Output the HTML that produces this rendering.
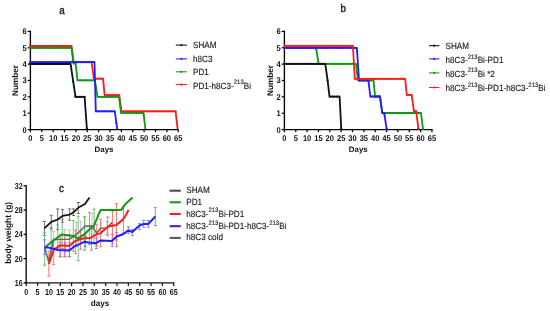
<!DOCTYPE html>
<html><head><meta charset="utf-8"><title>Figure</title>
<style>
html,body{margin:0;padding:0;background:#fff;}
svg{display:block;font-family:"Liberation Sans", Arial, sans-serif;text-rendering:geometricPrecision;}
</style></head>
<body>
<svg width="550" height="311" viewBox="0 0 550 311">
<rect width="550" height="311" fill="#fff"/>
<line x1="30.40" y1="30.78" x2="30.40" y2="130.20" stroke="#000" stroke-width="1.35" />
<line x1="27.70" y1="129.60" x2="30.40" y2="129.60" stroke="#000" stroke-width="1.2" />
<text transform="translate(26.80 132.50) scale(0.9 1)" font-size="8.4" text-anchor="end" font-weight="bold" fill="#111" >0</text>
<line x1="27.70" y1="113.23" x2="30.40" y2="113.23" stroke="#000" stroke-width="1.2" />
<text transform="translate(26.80 116.13) scale(0.9 1)" font-size="8.4" text-anchor="end" font-weight="bold" fill="#111" >1</text>
<line x1="27.70" y1="96.86" x2="30.40" y2="96.86" stroke="#000" stroke-width="1.2" />
<text transform="translate(26.80 99.76) scale(0.9 1)" font-size="8.4" text-anchor="end" font-weight="bold" fill="#111" >2</text>
<line x1="27.70" y1="80.49" x2="30.40" y2="80.49" stroke="#000" stroke-width="1.2" />
<text transform="translate(26.80 83.39) scale(0.9 1)" font-size="8.4" text-anchor="end" font-weight="bold" fill="#111" >3</text>
<line x1="27.70" y1="64.12" x2="30.40" y2="64.12" stroke="#000" stroke-width="1.2" />
<text transform="translate(26.80 67.02) scale(0.9 1)" font-size="8.4" text-anchor="end" font-weight="bold" fill="#111" >4</text>
<line x1="27.70" y1="47.75" x2="30.40" y2="47.75" stroke="#000" stroke-width="1.2" />
<text transform="translate(26.80 50.65) scale(0.9 1)" font-size="8.4" text-anchor="end" font-weight="bold" fill="#111" >5</text>
<line x1="27.70" y1="31.38" x2="30.40" y2="31.38" stroke="#000" stroke-width="1.2" />
<text transform="translate(26.80 34.28) scale(0.9 1)" font-size="8.4" text-anchor="end" font-weight="bold" fill="#111" >6</text>
<line x1="29.80" y1="129.60" x2="178.81" y2="129.60" stroke="#000" stroke-width="1.35" />
<line x1="30.40" y1="129.60" x2="30.40" y2="132.20" stroke="#000" stroke-width="1.2" />
<text transform="translate(30.40 140.60) scale(0.9 1)" font-size="8.4" text-anchor="middle" font-weight="bold" fill="#111" >0</text>
<line x1="41.77" y1="129.60" x2="41.77" y2="132.20" stroke="#000" stroke-width="1.2" />
<text transform="translate(41.77 140.60) scale(0.9 1)" font-size="8.4" text-anchor="middle" font-weight="bold" fill="#111" >5</text>
<line x1="53.14" y1="129.60" x2="53.14" y2="132.20" stroke="#000" stroke-width="1.2" />
<text transform="translate(53.14 140.60) scale(0.9 1)" font-size="8.4" text-anchor="middle" font-weight="bold" fill="#111" >10</text>
<line x1="64.51" y1="129.60" x2="64.51" y2="132.20" stroke="#000" stroke-width="1.2" />
<text transform="translate(64.51 140.60) scale(0.9 1)" font-size="8.4" text-anchor="middle" font-weight="bold" fill="#111" >15</text>
<line x1="75.88" y1="129.60" x2="75.88" y2="132.20" stroke="#000" stroke-width="1.2" />
<text transform="translate(75.88 140.60) scale(0.9 1)" font-size="8.4" text-anchor="middle" font-weight="bold" fill="#111" >20</text>
<line x1="87.25" y1="129.60" x2="87.25" y2="132.20" stroke="#000" stroke-width="1.2" />
<text transform="translate(87.25 140.60) scale(0.9 1)" font-size="8.4" text-anchor="middle" font-weight="bold" fill="#111" >25</text>
<line x1="98.62" y1="129.60" x2="98.62" y2="132.20" stroke="#000" stroke-width="1.2" />
<text transform="translate(98.62 140.60) scale(0.9 1)" font-size="8.4" text-anchor="middle" font-weight="bold" fill="#111" >30</text>
<line x1="109.99" y1="129.60" x2="109.99" y2="132.20" stroke="#000" stroke-width="1.2" />
<text transform="translate(109.99 140.60) scale(0.9 1)" font-size="8.4" text-anchor="middle" font-weight="bold" fill="#111" >35</text>
<line x1="121.36" y1="129.60" x2="121.36" y2="132.20" stroke="#000" stroke-width="1.2" />
<text transform="translate(121.36 140.60) scale(0.9 1)" font-size="8.4" text-anchor="middle" font-weight="bold" fill="#111" >40</text>
<line x1="132.73" y1="129.60" x2="132.73" y2="132.20" stroke="#000" stroke-width="1.2" />
<text transform="translate(132.73 140.60) scale(0.9 1)" font-size="8.4" text-anchor="middle" font-weight="bold" fill="#111" >45</text>
<line x1="144.10" y1="129.60" x2="144.10" y2="132.20" stroke="#000" stroke-width="1.2" />
<text transform="translate(144.10 140.60) scale(0.9 1)" font-size="8.4" text-anchor="middle" font-weight="bold" fill="#111" >50</text>
<line x1="155.47" y1="129.60" x2="155.47" y2="132.20" stroke="#000" stroke-width="1.2" />
<text transform="translate(155.47 140.60) scale(0.9 1)" font-size="8.4" text-anchor="middle" font-weight="bold" fill="#111" >55</text>
<line x1="166.84" y1="129.60" x2="166.84" y2="132.20" stroke="#000" stroke-width="1.2" />
<text transform="translate(166.84 140.60) scale(0.9 1)" font-size="8.4" text-anchor="middle" font-weight="bold" fill="#111" >60</text>
<line x1="178.21" y1="129.60" x2="178.21" y2="132.20" stroke="#000" stroke-width="1.2" />
<text transform="translate(178.21 140.60) scale(0.9 1)" font-size="8.4" text-anchor="middle" font-weight="bold" fill="#111" >65</text>
<text x="104.00" y="151.50" font-size="7.9" text-anchor="middle" font-weight="bold" fill="#111" >Days</text>
<text x="0" y="0" font-size="8.2" font-weight="bold" text-anchor="middle" fill="#111" transform="translate(18.0,80.5) rotate(-90)">Number</text>
<text transform="translate(59.20 14.00) scale(0.88 1)" font-size="11.2" text-anchor="start" font-weight="normal" fill="#1a1a2a" stroke="#1a1a2a" stroke-width="0.45">a</text>
<polyline points="30.00,64.00 70.60,64.00 73.00,80.20 75.50,96.80 84.60,96.80 86.90,129.10" fill="none" stroke="#111" stroke-width="1.8" stroke-linejoin="round" />
<circle cx="30.00" cy="64.00" r="1.05" fill="#111"/>
<circle cx="32.27" cy="64.00" r="1.05" fill="#111"/>
<circle cx="34.55" cy="64.00" r="1.05" fill="#111"/>
<circle cx="36.82" cy="64.00" r="1.05" fill="#111"/>
<circle cx="39.10" cy="64.00" r="1.05" fill="#111"/>
<circle cx="41.37" cy="64.00" r="1.05" fill="#111"/>
<circle cx="43.64" cy="64.00" r="1.05" fill="#111"/>
<circle cx="45.92" cy="64.00" r="1.05" fill="#111"/>
<circle cx="48.19" cy="64.00" r="1.05" fill="#111"/>
<circle cx="50.47" cy="64.00" r="1.05" fill="#111"/>
<circle cx="52.74" cy="64.00" r="1.05" fill="#111"/>
<circle cx="55.01" cy="64.00" r="1.05" fill="#111"/>
<circle cx="57.29" cy="64.00" r="1.05" fill="#111"/>
<circle cx="59.56" cy="64.00" r="1.05" fill="#111"/>
<circle cx="61.84" cy="64.00" r="1.05" fill="#111"/>
<circle cx="64.11" cy="64.00" r="1.05" fill="#111"/>
<circle cx="66.38" cy="64.00" r="1.05" fill="#111"/>
<circle cx="68.66" cy="64.00" r="1.05" fill="#111"/>
<circle cx="70.93" cy="66.24" r="1.05" fill="#111"/>
<circle cx="73.21" cy="81.57" r="1.05" fill="#111"/>
<circle cx="75.48" cy="96.67" r="1.05" fill="#111"/>
<circle cx="77.75" cy="96.80" r="1.05" fill="#111"/>
<circle cx="80.03" cy="96.80" r="1.05" fill="#111"/>
<circle cx="82.30" cy="96.80" r="1.05" fill="#111"/>
<circle cx="84.58" cy="96.80" r="1.05" fill="#111"/>
<circle cx="86.85" cy="128.40" r="1.05" fill="#111"/>
<polyline points="30.00,46.00 71.60,46.00 73.60,62.20 91.50,62.20 93.90,78.70 103.10,78.70 104.60,95.10 119.30,95.10 121.40,111.30 175.60,111.30 177.60,129.10" fill="none" stroke="#ff1a1a" stroke-width="1.8" stroke-linejoin="round" />
<circle cx="30.00" cy="46.00" r="1.05" fill="#ff1a1a"/>
<circle cx="32.27" cy="46.00" r="1.05" fill="#ff1a1a"/>
<circle cx="34.55" cy="46.00" r="1.05" fill="#ff1a1a"/>
<circle cx="36.82" cy="46.00" r="1.05" fill="#ff1a1a"/>
<circle cx="39.10" cy="46.00" r="1.05" fill="#ff1a1a"/>
<circle cx="41.37" cy="46.00" r="1.05" fill="#ff1a1a"/>
<circle cx="43.64" cy="46.00" r="1.05" fill="#ff1a1a"/>
<circle cx="45.92" cy="46.00" r="1.05" fill="#ff1a1a"/>
<circle cx="48.19" cy="46.00" r="1.05" fill="#ff1a1a"/>
<circle cx="50.47" cy="46.00" r="1.05" fill="#ff1a1a"/>
<circle cx="52.74" cy="46.00" r="1.05" fill="#ff1a1a"/>
<circle cx="55.01" cy="46.00" r="1.05" fill="#ff1a1a"/>
<circle cx="57.29" cy="46.00" r="1.05" fill="#ff1a1a"/>
<circle cx="59.56" cy="46.00" r="1.05" fill="#ff1a1a"/>
<circle cx="61.84" cy="46.00" r="1.05" fill="#ff1a1a"/>
<circle cx="64.11" cy="46.00" r="1.05" fill="#ff1a1a"/>
<circle cx="66.38" cy="46.00" r="1.05" fill="#ff1a1a"/>
<circle cx="68.66" cy="46.00" r="1.05" fill="#ff1a1a"/>
<circle cx="70.93" cy="46.00" r="1.05" fill="#ff1a1a"/>
<circle cx="73.21" cy="59.01" r="1.05" fill="#ff1a1a"/>
<circle cx="75.48" cy="62.20" r="1.05" fill="#ff1a1a"/>
<circle cx="77.75" cy="62.20" r="1.05" fill="#ff1a1a"/>
<circle cx="80.03" cy="62.20" r="1.05" fill="#ff1a1a"/>
<circle cx="82.30" cy="62.20" r="1.05" fill="#ff1a1a"/>
<circle cx="84.58" cy="62.20" r="1.05" fill="#ff1a1a"/>
<circle cx="86.85" cy="62.20" r="1.05" fill="#ff1a1a"/>
<circle cx="89.12" cy="62.20" r="1.05" fill="#ff1a1a"/>
<circle cx="91.40" cy="62.20" r="1.05" fill="#ff1a1a"/>
<circle cx="93.67" cy="77.13" r="1.05" fill="#ff1a1a"/>
<circle cx="95.95" cy="78.70" r="1.05" fill="#ff1a1a"/>
<circle cx="98.22" cy="78.70" r="1.05" fill="#ff1a1a"/>
<circle cx="100.49" cy="78.70" r="1.05" fill="#ff1a1a"/>
<circle cx="102.77" cy="78.70" r="1.05" fill="#ff1a1a"/>
<circle cx="105.04" cy="95.10" r="1.05" fill="#ff1a1a"/>
<circle cx="107.32" cy="95.10" r="1.05" fill="#ff1a1a"/>
<circle cx="109.59" cy="95.10" r="1.05" fill="#ff1a1a"/>
<circle cx="111.86" cy="95.10" r="1.05" fill="#ff1a1a"/>
<circle cx="114.14" cy="95.10" r="1.05" fill="#ff1a1a"/>
<circle cx="116.41" cy="95.10" r="1.05" fill="#ff1a1a"/>
<circle cx="118.69" cy="95.10" r="1.05" fill="#ff1a1a"/>
<circle cx="120.96" cy="107.91" r="1.05" fill="#ff1a1a"/>
<circle cx="123.23" cy="111.30" r="1.05" fill="#ff1a1a"/>
<circle cx="125.51" cy="111.30" r="1.05" fill="#ff1a1a"/>
<circle cx="127.78" cy="111.30" r="1.05" fill="#ff1a1a"/>
<circle cx="130.06" cy="111.30" r="1.05" fill="#ff1a1a"/>
<circle cx="132.33" cy="111.30" r="1.05" fill="#ff1a1a"/>
<circle cx="134.60" cy="111.30" r="1.05" fill="#ff1a1a"/>
<circle cx="136.88" cy="111.30" r="1.05" fill="#ff1a1a"/>
<circle cx="139.15" cy="111.30" r="1.05" fill="#ff1a1a"/>
<circle cx="141.43" cy="111.30" r="1.05" fill="#ff1a1a"/>
<circle cx="143.70" cy="111.30" r="1.05" fill="#ff1a1a"/>
<circle cx="145.97" cy="111.30" r="1.05" fill="#ff1a1a"/>
<circle cx="148.25" cy="111.30" r="1.05" fill="#ff1a1a"/>
<circle cx="150.52" cy="111.30" r="1.05" fill="#ff1a1a"/>
<circle cx="152.80" cy="111.30" r="1.05" fill="#ff1a1a"/>
<circle cx="155.07" cy="111.30" r="1.05" fill="#ff1a1a"/>
<circle cx="157.34" cy="111.30" r="1.05" fill="#ff1a1a"/>
<circle cx="159.62" cy="111.30" r="1.05" fill="#ff1a1a"/>
<circle cx="161.89" cy="111.30" r="1.05" fill="#ff1a1a"/>
<circle cx="164.17" cy="111.30" r="1.05" fill="#ff1a1a"/>
<circle cx="166.44" cy="111.30" r="1.05" fill="#ff1a1a"/>
<circle cx="168.71" cy="111.30" r="1.05" fill="#ff1a1a"/>
<circle cx="170.99" cy="111.30" r="1.05" fill="#ff1a1a"/>
<circle cx="173.26" cy="111.30" r="1.05" fill="#ff1a1a"/>
<circle cx="175.54" cy="111.30" r="1.05" fill="#ff1a1a"/>
<polyline points="30.00,47.90 71.60,47.90 73.40,63.50 75.60,63.50 77.50,80.30 94.90,80.30 97.50,96.80 119.00,96.80 121.00,112.90 143.50,112.90 145.40,129.10" fill="none" stroke="#119911" stroke-width="1.8" stroke-linejoin="round" />
<circle cx="30.00" cy="47.90" r="1.05" fill="#119911"/>
<circle cx="32.27" cy="47.90" r="1.05" fill="#119911"/>
<circle cx="34.55" cy="47.90" r="1.05" fill="#119911"/>
<circle cx="36.82" cy="47.90" r="1.05" fill="#119911"/>
<circle cx="39.10" cy="47.90" r="1.05" fill="#119911"/>
<circle cx="41.37" cy="47.90" r="1.05" fill="#119911"/>
<circle cx="43.64" cy="47.90" r="1.05" fill="#119911"/>
<circle cx="45.92" cy="47.90" r="1.05" fill="#119911"/>
<circle cx="48.19" cy="47.90" r="1.05" fill="#119911"/>
<circle cx="50.47" cy="47.90" r="1.05" fill="#119911"/>
<circle cx="52.74" cy="47.90" r="1.05" fill="#119911"/>
<circle cx="55.01" cy="47.90" r="1.05" fill="#119911"/>
<circle cx="57.29" cy="47.90" r="1.05" fill="#119911"/>
<circle cx="59.56" cy="47.90" r="1.05" fill="#119911"/>
<circle cx="61.84" cy="47.90" r="1.05" fill="#119911"/>
<circle cx="64.11" cy="47.90" r="1.05" fill="#119911"/>
<circle cx="66.38" cy="47.90" r="1.05" fill="#119911"/>
<circle cx="68.66" cy="47.90" r="1.05" fill="#119911"/>
<circle cx="70.93" cy="47.90" r="1.05" fill="#119911"/>
<circle cx="73.21" cy="61.82" r="1.05" fill="#119911"/>
<circle cx="75.48" cy="63.50" r="1.05" fill="#119911"/>
<circle cx="77.75" cy="80.30" r="1.05" fill="#119911"/>
<circle cx="80.03" cy="80.30" r="1.05" fill="#119911"/>
<circle cx="82.30" cy="80.30" r="1.05" fill="#119911"/>
<circle cx="84.58" cy="80.30" r="1.05" fill="#119911"/>
<circle cx="86.85" cy="80.30" r="1.05" fill="#119911"/>
<circle cx="89.12" cy="80.30" r="1.05" fill="#119911"/>
<circle cx="91.40" cy="80.30" r="1.05" fill="#119911"/>
<circle cx="93.67" cy="80.30" r="1.05" fill="#119911"/>
<circle cx="95.95" cy="86.94" r="1.05" fill="#119911"/>
<circle cx="98.22" cy="96.80" r="1.05" fill="#119911"/>
<circle cx="100.49" cy="96.80" r="1.05" fill="#119911"/>
<circle cx="102.77" cy="96.80" r="1.05" fill="#119911"/>
<circle cx="105.04" cy="96.80" r="1.05" fill="#119911"/>
<circle cx="107.32" cy="96.80" r="1.05" fill="#119911"/>
<circle cx="109.59" cy="96.80" r="1.05" fill="#119911"/>
<circle cx="111.86" cy="96.80" r="1.05" fill="#119911"/>
<circle cx="114.14" cy="96.80" r="1.05" fill="#119911"/>
<circle cx="116.41" cy="96.80" r="1.05" fill="#119911"/>
<circle cx="118.69" cy="96.80" r="1.05" fill="#119911"/>
<circle cx="120.96" cy="112.58" r="1.05" fill="#119911"/>
<circle cx="123.23" cy="112.90" r="1.05" fill="#119911"/>
<circle cx="125.51" cy="112.90" r="1.05" fill="#119911"/>
<circle cx="127.78" cy="112.90" r="1.05" fill="#119911"/>
<circle cx="130.06" cy="112.90" r="1.05" fill="#119911"/>
<circle cx="132.33" cy="112.90" r="1.05" fill="#119911"/>
<circle cx="134.60" cy="112.90" r="1.05" fill="#119911"/>
<circle cx="136.88" cy="112.90" r="1.05" fill="#119911"/>
<circle cx="139.15" cy="112.90" r="1.05" fill="#119911"/>
<circle cx="141.43" cy="112.90" r="1.05" fill="#119911"/>
<circle cx="143.70" cy="114.61" r="1.05" fill="#119911"/>
<polyline points="30.00,62.10 94.50,62.10 95.80,111.30 114.80,111.30 117.20,129.10" fill="none" stroke="#1f1fff" stroke-width="1.8" stroke-linejoin="round" />
<circle cx="30.00" cy="62.10" r="1.05" fill="#1f1fff"/>
<circle cx="32.27" cy="62.10" r="1.05" fill="#1f1fff"/>
<circle cx="34.55" cy="62.10" r="1.05" fill="#1f1fff"/>
<circle cx="36.82" cy="62.10" r="1.05" fill="#1f1fff"/>
<circle cx="39.10" cy="62.10" r="1.05" fill="#1f1fff"/>
<circle cx="41.37" cy="62.10" r="1.05" fill="#1f1fff"/>
<circle cx="43.64" cy="62.10" r="1.05" fill="#1f1fff"/>
<circle cx="45.92" cy="62.10" r="1.05" fill="#1f1fff"/>
<circle cx="48.19" cy="62.10" r="1.05" fill="#1f1fff"/>
<circle cx="50.47" cy="62.10" r="1.05" fill="#1f1fff"/>
<circle cx="52.74" cy="62.10" r="1.05" fill="#1f1fff"/>
<circle cx="55.01" cy="62.10" r="1.05" fill="#1f1fff"/>
<circle cx="57.29" cy="62.10" r="1.05" fill="#1f1fff"/>
<circle cx="59.56" cy="62.10" r="1.05" fill="#1f1fff"/>
<circle cx="61.84" cy="62.10" r="1.05" fill="#1f1fff"/>
<circle cx="64.11" cy="62.10" r="1.05" fill="#1f1fff"/>
<circle cx="66.38" cy="62.10" r="1.05" fill="#1f1fff"/>
<circle cx="68.66" cy="62.10" r="1.05" fill="#1f1fff"/>
<circle cx="70.93" cy="62.10" r="1.05" fill="#1f1fff"/>
<circle cx="73.21" cy="62.10" r="1.05" fill="#1f1fff"/>
<circle cx="75.48" cy="62.10" r="1.05" fill="#1f1fff"/>
<circle cx="77.75" cy="62.10" r="1.05" fill="#1f1fff"/>
<circle cx="80.03" cy="62.10" r="1.05" fill="#1f1fff"/>
<circle cx="82.30" cy="62.10" r="1.05" fill="#1f1fff"/>
<circle cx="84.58" cy="62.10" r="1.05" fill="#1f1fff"/>
<circle cx="86.85" cy="62.10" r="1.05" fill="#1f1fff"/>
<circle cx="89.12" cy="62.10" r="1.05" fill="#1f1fff"/>
<circle cx="91.40" cy="62.10" r="1.05" fill="#1f1fff"/>
<circle cx="93.67" cy="62.10" r="1.05" fill="#1f1fff"/>
<circle cx="95.95" cy="111.30" r="1.05" fill="#1f1fff"/>
<circle cx="98.22" cy="111.30" r="1.05" fill="#1f1fff"/>
<circle cx="100.49" cy="111.30" r="1.05" fill="#1f1fff"/>
<circle cx="102.77" cy="111.30" r="1.05" fill="#1f1fff"/>
<circle cx="105.04" cy="111.30" r="1.05" fill="#1f1fff"/>
<circle cx="107.32" cy="111.30" r="1.05" fill="#1f1fff"/>
<circle cx="109.59" cy="111.30" r="1.05" fill="#1f1fff"/>
<circle cx="111.86" cy="111.30" r="1.05" fill="#1f1fff"/>
<circle cx="114.14" cy="111.30" r="1.05" fill="#1f1fff"/>
<circle cx="116.41" cy="123.26" r="1.05" fill="#1f1fff"/>
<line x1="175.80" y1="45.10" x2="187.00" y2="45.10" stroke="#111" stroke-width="1.05" />
<circle cx="181.40" cy="45.10" r="1.1" fill="#111"/>
<text transform="translate(193.00 47.80) scale(0.905 1)" font-size="9" fill="#222" stroke="#222" stroke-width="0.15">SHAM</text>
<line x1="175.80" y1="58.90" x2="187.00" y2="58.90" stroke="#1f1fff" stroke-width="1.05" />
<circle cx="181.40" cy="58.90" r="1.1" fill="#1f1fff"/>
<text transform="translate(193.00 61.80) scale(0.905 1)" font-size="9" fill="#222" stroke="#222" stroke-width="0.15">h8C3</text>
<line x1="175.80" y1="71.80" x2="187.00" y2="71.80" stroke="#119911" stroke-width="1.05" />
<circle cx="181.40" cy="71.80" r="1.1" fill="#119911"/>
<text transform="translate(193.00 74.60) scale(0.905 1)" font-size="9" fill="#222" stroke="#222" stroke-width="0.15">PD1</text>
<line x1="175.80" y1="84.60" x2="187.00" y2="84.60" stroke="#ff1a1a" stroke-width="1.05" />
<circle cx="181.40" cy="84.60" r="1.1" fill="#ff1a1a"/>
<text transform="translate(193.00 88.70) scale(0.905 1)" font-size="9" fill="#222" stroke="#222" stroke-width="0.15"><tspan>PD1-h8C3-</tspan><tspan font-size="6.6" dy="-4.4">213</tspan><tspan dy="4.4">Bi</tspan></text>
<line x1="284.40" y1="30.78" x2="284.40" y2="130.20" stroke="#000" stroke-width="1.35" />
<line x1="281.70" y1="129.60" x2="284.40" y2="129.60" stroke="#000" stroke-width="1.2" />
<text transform="translate(280.80 132.50) scale(0.9 1)" font-size="8.4" text-anchor="end" font-weight="bold" fill="#111" >0</text>
<line x1="281.70" y1="113.23" x2="284.40" y2="113.23" stroke="#000" stroke-width="1.2" />
<text transform="translate(280.80 116.13) scale(0.9 1)" font-size="8.4" text-anchor="end" font-weight="bold" fill="#111" >1</text>
<line x1="281.70" y1="96.86" x2="284.40" y2="96.86" stroke="#000" stroke-width="1.2" />
<text transform="translate(280.80 99.76) scale(0.9 1)" font-size="8.4" text-anchor="end" font-weight="bold" fill="#111" >2</text>
<line x1="281.70" y1="80.49" x2="284.40" y2="80.49" stroke="#000" stroke-width="1.2" />
<text transform="translate(280.80 83.39) scale(0.9 1)" font-size="8.4" text-anchor="end" font-weight="bold" fill="#111" >3</text>
<line x1="281.70" y1="64.12" x2="284.40" y2="64.12" stroke="#000" stroke-width="1.2" />
<text transform="translate(280.80 67.02) scale(0.9 1)" font-size="8.4" text-anchor="end" font-weight="bold" fill="#111" >4</text>
<line x1="281.70" y1="47.75" x2="284.40" y2="47.75" stroke="#000" stroke-width="1.2" />
<text transform="translate(280.80 50.65) scale(0.9 1)" font-size="8.4" text-anchor="end" font-weight="bold" fill="#111" >5</text>
<line x1="281.70" y1="31.38" x2="284.40" y2="31.38" stroke="#000" stroke-width="1.2" />
<text transform="translate(280.80 34.28) scale(0.9 1)" font-size="8.4" text-anchor="end" font-weight="bold" fill="#111" >6</text>
<line x1="283.80" y1="129.60" x2="432.55" y2="129.60" stroke="#000" stroke-width="1.35" />
<line x1="284.40" y1="129.60" x2="284.40" y2="132.20" stroke="#000" stroke-width="1.2" />
<text transform="translate(284.40 140.60) scale(0.9 1)" font-size="8.4" text-anchor="middle" font-weight="bold" fill="#111" >0</text>
<line x1="295.75" y1="129.60" x2="295.75" y2="132.20" stroke="#000" stroke-width="1.2" />
<text transform="translate(295.75 140.60) scale(0.9 1)" font-size="8.4" text-anchor="middle" font-weight="bold" fill="#111" >5</text>
<line x1="307.10" y1="129.60" x2="307.10" y2="132.20" stroke="#000" stroke-width="1.2" />
<text transform="translate(307.10 140.60) scale(0.9 1)" font-size="8.4" text-anchor="middle" font-weight="bold" fill="#111" >10</text>
<line x1="318.45" y1="129.60" x2="318.45" y2="132.20" stroke="#000" stroke-width="1.2" />
<text transform="translate(318.45 140.60) scale(0.9 1)" font-size="8.4" text-anchor="middle" font-weight="bold" fill="#111" >15</text>
<line x1="329.80" y1="129.60" x2="329.80" y2="132.20" stroke="#000" stroke-width="1.2" />
<text transform="translate(329.80 140.60) scale(0.9 1)" font-size="8.4" text-anchor="middle" font-weight="bold" fill="#111" >20</text>
<line x1="341.15" y1="129.60" x2="341.15" y2="132.20" stroke="#000" stroke-width="1.2" />
<text transform="translate(341.15 140.60) scale(0.9 1)" font-size="8.4" text-anchor="middle" font-weight="bold" fill="#111" >25</text>
<line x1="352.50" y1="129.60" x2="352.50" y2="132.20" stroke="#000" stroke-width="1.2" />
<text transform="translate(352.50 140.60) scale(0.9 1)" font-size="8.4" text-anchor="middle" font-weight="bold" fill="#111" >30</text>
<line x1="363.85" y1="129.60" x2="363.85" y2="132.20" stroke="#000" stroke-width="1.2" />
<text transform="translate(363.85 140.60) scale(0.9 1)" font-size="8.4" text-anchor="middle" font-weight="bold" fill="#111" >35</text>
<line x1="375.20" y1="129.60" x2="375.20" y2="132.20" stroke="#000" stroke-width="1.2" />
<text transform="translate(375.20 140.60) scale(0.9 1)" font-size="8.4" text-anchor="middle" font-weight="bold" fill="#111" >40</text>
<line x1="386.55" y1="129.60" x2="386.55" y2="132.20" stroke="#000" stroke-width="1.2" />
<text transform="translate(386.55 140.60) scale(0.9 1)" font-size="8.4" text-anchor="middle" font-weight="bold" fill="#111" >45</text>
<line x1="397.90" y1="129.60" x2="397.90" y2="132.20" stroke="#000" stroke-width="1.2" />
<text transform="translate(397.90 140.60) scale(0.9 1)" font-size="8.4" text-anchor="middle" font-weight="bold" fill="#111" >50</text>
<line x1="409.25" y1="129.60" x2="409.25" y2="132.20" stroke="#000" stroke-width="1.2" />
<text transform="translate(409.25 140.60) scale(0.9 1)" font-size="8.4" text-anchor="middle" font-weight="bold" fill="#111" >55</text>
<line x1="420.60" y1="129.60" x2="420.60" y2="132.20" stroke="#000" stroke-width="1.2" />
<text transform="translate(420.60 140.60) scale(0.9 1)" font-size="8.4" text-anchor="middle" font-weight="bold" fill="#111" >60</text>
<line x1="431.95" y1="129.60" x2="431.95" y2="132.20" stroke="#000" stroke-width="1.2" />
<text transform="translate(431.95 140.60) scale(0.9 1)" font-size="8.4" text-anchor="middle" font-weight="bold" fill="#111" >65</text>
<text x="358.30" y="151.50" font-size="7.9" text-anchor="middle" font-weight="bold" fill="#111" >Days</text>
<text x="0" y="0" font-size="8.2" font-weight="bold" text-anchor="middle" fill="#111" transform="translate(272.6,80.5) rotate(-90)">Number</text>
<text transform="translate(340.60 12.40) scale(0.88 1)" font-size="11.0" text-anchor="start" font-weight="normal" fill="#1a1a2a" stroke="#1a1a2a" stroke-width="0.45">b</text>
<polyline points="284.50,47.90 316.10,47.90 318.60,63.90 356.00,63.90 358.00,80.40 373.50,80.40 375.10,96.50 380.00,96.50 382.30,113.00 421.00,113.00 423.00,129.20" fill="none" stroke="#119911" stroke-width="1.8" stroke-linejoin="round" />
<circle cx="284.50" cy="47.90" r="1.05" fill="#119911"/>
<circle cx="286.77" cy="47.90" r="1.05" fill="#119911"/>
<circle cx="289.04" cy="47.90" r="1.05" fill="#119911"/>
<circle cx="291.31" cy="47.90" r="1.05" fill="#119911"/>
<circle cx="293.58" cy="47.90" r="1.05" fill="#119911"/>
<circle cx="295.85" cy="47.90" r="1.05" fill="#119911"/>
<circle cx="298.12" cy="47.90" r="1.05" fill="#119911"/>
<circle cx="300.39" cy="47.90" r="1.05" fill="#119911"/>
<circle cx="302.66" cy="47.90" r="1.05" fill="#119911"/>
<circle cx="304.93" cy="47.90" r="1.05" fill="#119911"/>
<circle cx="307.20" cy="47.90" r="1.05" fill="#119911"/>
<circle cx="309.47" cy="47.90" r="1.05" fill="#119911"/>
<circle cx="311.74" cy="47.90" r="1.05" fill="#119911"/>
<circle cx="314.01" cy="47.90" r="1.05" fill="#119911"/>
<circle cx="316.28" cy="49.05" r="1.05" fill="#119911"/>
<circle cx="318.55" cy="63.58" r="1.05" fill="#119911"/>
<circle cx="320.82" cy="63.90" r="1.05" fill="#119911"/>
<circle cx="323.09" cy="63.90" r="1.05" fill="#119911"/>
<circle cx="325.36" cy="63.90" r="1.05" fill="#119911"/>
<circle cx="327.63" cy="63.90" r="1.05" fill="#119911"/>
<circle cx="329.90" cy="63.90" r="1.05" fill="#119911"/>
<circle cx="332.17" cy="63.90" r="1.05" fill="#119911"/>
<circle cx="334.44" cy="63.90" r="1.05" fill="#119911"/>
<circle cx="336.71" cy="63.90" r="1.05" fill="#119911"/>
<circle cx="338.98" cy="63.90" r="1.05" fill="#119911"/>
<circle cx="341.25" cy="63.90" r="1.05" fill="#119911"/>
<circle cx="343.52" cy="63.90" r="1.05" fill="#119911"/>
<circle cx="345.79" cy="63.90" r="1.05" fill="#119911"/>
<circle cx="348.06" cy="63.90" r="1.05" fill="#119911"/>
<circle cx="350.33" cy="63.90" r="1.05" fill="#119911"/>
<circle cx="352.60" cy="63.90" r="1.05" fill="#119911"/>
<circle cx="354.87" cy="63.90" r="1.05" fill="#119911"/>
<circle cx="357.14" cy="73.30" r="1.05" fill="#119911"/>
<circle cx="359.41" cy="80.40" r="1.05" fill="#119911"/>
<circle cx="361.68" cy="80.40" r="1.05" fill="#119911"/>
<circle cx="363.95" cy="80.40" r="1.05" fill="#119911"/>
<circle cx="366.22" cy="80.40" r="1.05" fill="#119911"/>
<circle cx="368.49" cy="80.40" r="1.05" fill="#119911"/>
<circle cx="370.76" cy="80.40" r="1.05" fill="#119911"/>
<circle cx="373.03" cy="80.40" r="1.05" fill="#119911"/>
<circle cx="375.30" cy="96.50" r="1.05" fill="#119911"/>
<circle cx="377.57" cy="96.50" r="1.05" fill="#119911"/>
<circle cx="379.84" cy="96.50" r="1.05" fill="#119911"/>
<circle cx="382.11" cy="111.64" r="1.05" fill="#119911"/>
<circle cx="384.38" cy="113.00" r="1.05" fill="#119911"/>
<circle cx="386.65" cy="113.00" r="1.05" fill="#119911"/>
<circle cx="388.92" cy="113.00" r="1.05" fill="#119911"/>
<circle cx="391.19" cy="113.00" r="1.05" fill="#119911"/>
<circle cx="393.46" cy="113.00" r="1.05" fill="#119911"/>
<circle cx="395.73" cy="113.00" r="1.05" fill="#119911"/>
<circle cx="398.00" cy="113.00" r="1.05" fill="#119911"/>
<circle cx="400.27" cy="113.00" r="1.05" fill="#119911"/>
<circle cx="402.54" cy="113.00" r="1.05" fill="#119911"/>
<circle cx="404.81" cy="113.00" r="1.05" fill="#119911"/>
<circle cx="407.08" cy="113.00" r="1.05" fill="#119911"/>
<circle cx="409.35" cy="113.00" r="1.05" fill="#119911"/>
<circle cx="411.62" cy="113.00" r="1.05" fill="#119911"/>
<circle cx="413.89" cy="113.00" r="1.05" fill="#119911"/>
<circle cx="416.16" cy="113.00" r="1.05" fill="#119911"/>
<circle cx="418.43" cy="113.00" r="1.05" fill="#119911"/>
<circle cx="420.70" cy="113.00" r="1.05" fill="#119911"/>
<circle cx="422.97" cy="128.96" r="1.05" fill="#119911"/>
<polyline points="284.50,63.90 325.30,63.90 327.60,80.30 329.50,96.60 339.60,96.60 341.30,129.20" fill="none" stroke="#111" stroke-width="1.8" stroke-linejoin="round" />
<circle cx="284.50" cy="63.90" r="1.05" fill="#111"/>
<circle cx="286.77" cy="63.90" r="1.05" fill="#111"/>
<circle cx="289.04" cy="63.90" r="1.05" fill="#111"/>
<circle cx="291.31" cy="63.90" r="1.05" fill="#111"/>
<circle cx="293.58" cy="63.90" r="1.05" fill="#111"/>
<circle cx="295.85" cy="63.90" r="1.05" fill="#111"/>
<circle cx="298.12" cy="63.90" r="1.05" fill="#111"/>
<circle cx="300.39" cy="63.90" r="1.05" fill="#111"/>
<circle cx="302.66" cy="63.90" r="1.05" fill="#111"/>
<circle cx="304.93" cy="63.90" r="1.05" fill="#111"/>
<circle cx="307.20" cy="63.90" r="1.05" fill="#111"/>
<circle cx="309.47" cy="63.90" r="1.05" fill="#111"/>
<circle cx="311.74" cy="63.90" r="1.05" fill="#111"/>
<circle cx="314.01" cy="63.90" r="1.05" fill="#111"/>
<circle cx="316.28" cy="63.90" r="1.05" fill="#111"/>
<circle cx="318.55" cy="63.90" r="1.05" fill="#111"/>
<circle cx="320.82" cy="63.90" r="1.05" fill="#111"/>
<circle cx="323.09" cy="63.90" r="1.05" fill="#111"/>
<circle cx="325.36" cy="64.33" r="1.05" fill="#111"/>
<circle cx="327.63" cy="80.56" r="1.05" fill="#111"/>
<circle cx="329.90" cy="96.60" r="1.05" fill="#111"/>
<circle cx="332.17" cy="96.60" r="1.05" fill="#111"/>
<circle cx="334.44" cy="96.60" r="1.05" fill="#111"/>
<circle cx="336.71" cy="96.60" r="1.05" fill="#111"/>
<circle cx="338.98" cy="96.60" r="1.05" fill="#111"/>
<circle cx="341.25" cy="128.24" r="1.05" fill="#111"/>
<polyline points="284.50,47.90 356.90,47.90 359.00,80.40 368.40,80.40 370.30,96.50 379.90,96.50 382.30,113.00 384.20,113.00 386.70,129.20" fill="none" stroke="#1f1fff" stroke-width="1.8" stroke-linejoin="round" />
<circle cx="284.50" cy="47.90" r="1.05" fill="#1f1fff"/>
<circle cx="286.77" cy="47.90" r="1.05" fill="#1f1fff"/>
<circle cx="289.04" cy="47.90" r="1.05" fill="#1f1fff"/>
<circle cx="291.31" cy="47.90" r="1.05" fill="#1f1fff"/>
<circle cx="293.58" cy="47.90" r="1.05" fill="#1f1fff"/>
<circle cx="295.85" cy="47.90" r="1.05" fill="#1f1fff"/>
<circle cx="298.12" cy="47.90" r="1.05" fill="#1f1fff"/>
<circle cx="300.39" cy="47.90" r="1.05" fill="#1f1fff"/>
<circle cx="302.66" cy="47.90" r="1.05" fill="#1f1fff"/>
<circle cx="304.93" cy="47.90" r="1.05" fill="#1f1fff"/>
<circle cx="307.20" cy="47.90" r="1.05" fill="#1f1fff"/>
<circle cx="309.47" cy="47.90" r="1.05" fill="#1f1fff"/>
<circle cx="311.74" cy="47.90" r="1.05" fill="#1f1fff"/>
<circle cx="314.01" cy="47.90" r="1.05" fill="#1f1fff"/>
<circle cx="316.28" cy="47.90" r="1.05" fill="#1f1fff"/>
<circle cx="318.55" cy="47.90" r="1.05" fill="#1f1fff"/>
<circle cx="320.82" cy="47.90" r="1.05" fill="#1f1fff"/>
<circle cx="323.09" cy="47.90" r="1.05" fill="#1f1fff"/>
<circle cx="325.36" cy="47.90" r="1.05" fill="#1f1fff"/>
<circle cx="327.63" cy="47.90" r="1.05" fill="#1f1fff"/>
<circle cx="329.90" cy="47.90" r="1.05" fill="#1f1fff"/>
<circle cx="332.17" cy="47.90" r="1.05" fill="#1f1fff"/>
<circle cx="334.44" cy="47.90" r="1.05" fill="#1f1fff"/>
<circle cx="336.71" cy="47.90" r="1.05" fill="#1f1fff"/>
<circle cx="338.98" cy="47.90" r="1.05" fill="#1f1fff"/>
<circle cx="341.25" cy="47.90" r="1.05" fill="#1f1fff"/>
<circle cx="343.52" cy="47.90" r="1.05" fill="#1f1fff"/>
<circle cx="345.79" cy="47.90" r="1.05" fill="#1f1fff"/>
<circle cx="348.06" cy="47.90" r="1.05" fill="#1f1fff"/>
<circle cx="350.33" cy="47.90" r="1.05" fill="#1f1fff"/>
<circle cx="352.60" cy="47.90" r="1.05" fill="#1f1fff"/>
<circle cx="354.87" cy="47.90" r="1.05" fill="#1f1fff"/>
<circle cx="357.14" cy="51.61" r="1.05" fill="#1f1fff"/>
<circle cx="359.41" cy="80.40" r="1.05" fill="#1f1fff"/>
<circle cx="361.68" cy="80.40" r="1.05" fill="#1f1fff"/>
<circle cx="363.95" cy="80.40" r="1.05" fill="#1f1fff"/>
<circle cx="366.22" cy="80.40" r="1.05" fill="#1f1fff"/>
<circle cx="368.49" cy="81.16" r="1.05" fill="#1f1fff"/>
<circle cx="370.76" cy="96.50" r="1.05" fill="#1f1fff"/>
<circle cx="373.03" cy="96.50" r="1.05" fill="#1f1fff"/>
<circle cx="375.30" cy="96.50" r="1.05" fill="#1f1fff"/>
<circle cx="377.57" cy="96.50" r="1.05" fill="#1f1fff"/>
<circle cx="379.84" cy="96.50" r="1.05" fill="#1f1fff"/>
<circle cx="382.11" cy="111.69" r="1.05" fill="#1f1fff"/>
<circle cx="384.38" cy="114.17" r="1.05" fill="#1f1fff"/>
<circle cx="386.65" cy="128.88" r="1.05" fill="#1f1fff"/>
<polyline points="284.50,45.90 352.90,45.90 354.80,78.80 405.20,78.80 406.80,94.90 411.60,94.90 414.00,111.40 416.20,111.40 418.50,129.20" fill="none" stroke="#ff1a1a" stroke-width="1.8" stroke-linejoin="round" />
<circle cx="284.50" cy="45.90" r="1.05" fill="#ff1a1a"/>
<circle cx="286.77" cy="45.90" r="1.05" fill="#ff1a1a"/>
<circle cx="289.04" cy="45.90" r="1.05" fill="#ff1a1a"/>
<circle cx="291.31" cy="45.90" r="1.05" fill="#ff1a1a"/>
<circle cx="293.58" cy="45.90" r="1.05" fill="#ff1a1a"/>
<circle cx="295.85" cy="45.90" r="1.05" fill="#ff1a1a"/>
<circle cx="298.12" cy="45.90" r="1.05" fill="#ff1a1a"/>
<circle cx="300.39" cy="45.90" r="1.05" fill="#ff1a1a"/>
<circle cx="302.66" cy="45.90" r="1.05" fill="#ff1a1a"/>
<circle cx="304.93" cy="45.90" r="1.05" fill="#ff1a1a"/>
<circle cx="307.20" cy="45.90" r="1.05" fill="#ff1a1a"/>
<circle cx="309.47" cy="45.90" r="1.05" fill="#ff1a1a"/>
<circle cx="311.74" cy="45.90" r="1.05" fill="#ff1a1a"/>
<circle cx="314.01" cy="45.90" r="1.05" fill="#ff1a1a"/>
<circle cx="316.28" cy="45.90" r="1.05" fill="#ff1a1a"/>
<circle cx="318.55" cy="45.90" r="1.05" fill="#ff1a1a"/>
<circle cx="320.82" cy="45.90" r="1.05" fill="#ff1a1a"/>
<circle cx="323.09" cy="45.90" r="1.05" fill="#ff1a1a"/>
<circle cx="325.36" cy="45.90" r="1.05" fill="#ff1a1a"/>
<circle cx="327.63" cy="45.90" r="1.05" fill="#ff1a1a"/>
<circle cx="329.90" cy="45.90" r="1.05" fill="#ff1a1a"/>
<circle cx="332.17" cy="45.90" r="1.05" fill="#ff1a1a"/>
<circle cx="334.44" cy="45.90" r="1.05" fill="#ff1a1a"/>
<circle cx="336.71" cy="45.90" r="1.05" fill="#ff1a1a"/>
<circle cx="338.98" cy="45.90" r="1.05" fill="#ff1a1a"/>
<circle cx="341.25" cy="45.90" r="1.05" fill="#ff1a1a"/>
<circle cx="343.52" cy="45.90" r="1.05" fill="#ff1a1a"/>
<circle cx="345.79" cy="45.90" r="1.05" fill="#ff1a1a"/>
<circle cx="348.06" cy="45.90" r="1.05" fill="#ff1a1a"/>
<circle cx="350.33" cy="45.90" r="1.05" fill="#ff1a1a"/>
<circle cx="352.60" cy="45.90" r="1.05" fill="#ff1a1a"/>
<circle cx="354.87" cy="78.80" r="1.05" fill="#ff1a1a"/>
<circle cx="357.14" cy="78.80" r="1.05" fill="#ff1a1a"/>
<circle cx="359.41" cy="78.80" r="1.05" fill="#ff1a1a"/>
<circle cx="361.68" cy="78.80" r="1.05" fill="#ff1a1a"/>
<circle cx="363.95" cy="78.80" r="1.05" fill="#ff1a1a"/>
<circle cx="366.22" cy="78.80" r="1.05" fill="#ff1a1a"/>
<circle cx="368.49" cy="78.80" r="1.05" fill="#ff1a1a"/>
<circle cx="370.76" cy="78.80" r="1.05" fill="#ff1a1a"/>
<circle cx="373.03" cy="78.80" r="1.05" fill="#ff1a1a"/>
<circle cx="375.30" cy="78.80" r="1.05" fill="#ff1a1a"/>
<circle cx="377.57" cy="78.80" r="1.05" fill="#ff1a1a"/>
<circle cx="379.84" cy="78.80" r="1.05" fill="#ff1a1a"/>
<circle cx="382.11" cy="78.80" r="1.05" fill="#ff1a1a"/>
<circle cx="384.38" cy="78.80" r="1.05" fill="#ff1a1a"/>
<circle cx="386.65" cy="78.80" r="1.05" fill="#ff1a1a"/>
<circle cx="388.92" cy="78.80" r="1.05" fill="#ff1a1a"/>
<circle cx="391.19" cy="78.80" r="1.05" fill="#ff1a1a"/>
<circle cx="393.46" cy="78.80" r="1.05" fill="#ff1a1a"/>
<circle cx="395.73" cy="78.80" r="1.05" fill="#ff1a1a"/>
<circle cx="398.00" cy="78.80" r="1.05" fill="#ff1a1a"/>
<circle cx="400.27" cy="78.80" r="1.05" fill="#ff1a1a"/>
<circle cx="402.54" cy="78.80" r="1.05" fill="#ff1a1a"/>
<circle cx="404.81" cy="78.80" r="1.05" fill="#ff1a1a"/>
<circle cx="407.08" cy="94.90" r="1.05" fill="#ff1a1a"/>
<circle cx="409.35" cy="94.90" r="1.05" fill="#ff1a1a"/>
<circle cx="411.62" cy="95.04" r="1.05" fill="#ff1a1a"/>
<circle cx="413.89" cy="110.64" r="1.05" fill="#ff1a1a"/>
<circle cx="416.16" cy="111.40" r="1.05" fill="#ff1a1a"/>
<circle cx="418.43" cy="128.66" r="1.05" fill="#ff1a1a"/>
<line x1="429.00" y1="45.70" x2="439.40" y2="45.70" stroke="#111" stroke-width="1.05" />
<circle cx="434.20" cy="45.70" r="1.1" fill="#111"/>
<text transform="translate(445.50 48.70) scale(0.905 1)" font-size="9" fill="#222" stroke="#222" stroke-width="0.15">SHAM</text>
<line x1="429.00" y1="58.90" x2="439.40" y2="58.90" stroke="#1f1fff" stroke-width="1.05" />
<circle cx="434.20" cy="58.90" r="1.1" fill="#1f1fff"/>
<text transform="translate(445.50 62.90) scale(0.905 1)" font-size="9" fill="#222" stroke="#222" stroke-width="0.15"><tspan>h8C3-</tspan><tspan font-size="6.6" dy="-4.4">213</tspan><tspan dy="4.4">Bi-PD1</tspan></text>
<line x1="429.00" y1="72.90" x2="439.40" y2="72.90" stroke="#119911" stroke-width="1.05" />
<circle cx="434.20" cy="72.90" r="1.1" fill="#119911"/>
<text transform="translate(445.50 76.80) scale(0.905 1)" font-size="9" fill="#222" stroke="#222" stroke-width="0.15"><tspan>h8C3-</tspan><tspan font-size="6.6" dy="-4.4">213</tspan><tspan dy="4.4">Bi *2</tspan></text>
<line x1="429.00" y1="87.50" x2="439.40" y2="87.50" stroke="#ff1a1a" stroke-width="1.05" />
<circle cx="434.20" cy="87.50" r="1.1" fill="#ff1a1a"/>
<text transform="translate(445.50 91.30) scale(0.905 1)" font-size="9" fill="#222" stroke="#222" stroke-width="0.15"><tspan>h8C3-</tspan><tspan font-size="6.6" dy="-4.4">213</tspan><tspan dy="4.4">Bi-PD1-h8C3-</tspan><tspan font-size="6.6" dy="-4.4">213</tspan><tspan dy="4.4">Bi</tspan></text>
<line x1="26.20" y1="185.20" x2="26.20" y2="283.60" stroke="#111" stroke-width="1.4" />
<line x1="23.60" y1="282.90" x2="26.20" y2="282.90" stroke="#111" stroke-width="1.4" />
<text transform="translate(22.80 285.90) scale(0.82 1)" font-size="8.7" text-anchor="end" font-weight="bold" fill="#111" >16</text>
<line x1="23.60" y1="258.62" x2="26.20" y2="258.62" stroke="#111" stroke-width="1.4" />
<text transform="translate(22.80 261.62) scale(0.82 1)" font-size="8.7" text-anchor="end" font-weight="bold" fill="#111" >20</text>
<line x1="23.60" y1="234.34" x2="26.20" y2="234.34" stroke="#111" stroke-width="1.4" />
<text transform="translate(22.80 237.34) scale(0.82 1)" font-size="8.7" text-anchor="end" font-weight="bold" fill="#111" >24</text>
<line x1="23.60" y1="210.06" x2="26.20" y2="210.06" stroke="#111" stroke-width="1.4" />
<text transform="translate(22.80 213.06) scale(0.82 1)" font-size="8.7" text-anchor="end" font-weight="bold" fill="#111" >28</text>
<line x1="23.60" y1="185.78" x2="26.20" y2="185.78" stroke="#111" stroke-width="1.4" />
<text transform="translate(22.80 188.78) scale(0.82 1)" font-size="8.7" text-anchor="end" font-weight="bold" fill="#111" >32</text>
<line x1="25.50" y1="282.90" x2="174.35" y2="282.90" stroke="#111" stroke-width="1.4" />
<line x1="26.20" y1="282.90" x2="26.20" y2="285.90" stroke="#111" stroke-width="1.2" />
<text transform="translate(26.20 295.00) scale(0.82 1)" font-size="8.7" text-anchor="middle" font-weight="bold" fill="#111" >0</text>
<line x1="37.55" y1="282.90" x2="37.55" y2="285.90" stroke="#111" stroke-width="1.2" />
<text transform="translate(37.55 295.00) scale(0.82 1)" font-size="8.7" text-anchor="middle" font-weight="bold" fill="#111" >5</text>
<line x1="48.90" y1="282.90" x2="48.90" y2="285.90" stroke="#111" stroke-width="1.2" />
<text transform="translate(48.90 295.00) scale(0.82 1)" font-size="8.7" text-anchor="middle" font-weight="bold" fill="#111" >10</text>
<line x1="60.25" y1="282.90" x2="60.25" y2="285.90" stroke="#111" stroke-width="1.2" />
<text transform="translate(60.25 295.00) scale(0.82 1)" font-size="8.7" text-anchor="middle" font-weight="bold" fill="#111" >15</text>
<line x1="71.60" y1="282.90" x2="71.60" y2="285.90" stroke="#111" stroke-width="1.2" />
<text transform="translate(71.60 295.00) scale(0.82 1)" font-size="8.7" text-anchor="middle" font-weight="bold" fill="#111" >20</text>
<line x1="82.95" y1="282.90" x2="82.95" y2="285.90" stroke="#111" stroke-width="1.2" />
<text transform="translate(82.95 295.00) scale(0.82 1)" font-size="8.7" text-anchor="middle" font-weight="bold" fill="#111" >25</text>
<line x1="94.30" y1="282.90" x2="94.30" y2="285.90" stroke="#111" stroke-width="1.2" />
<text transform="translate(94.30 295.00) scale(0.82 1)" font-size="8.7" text-anchor="middle" font-weight="bold" fill="#111" >30</text>
<line x1="105.65" y1="282.90" x2="105.65" y2="285.90" stroke="#111" stroke-width="1.2" />
<text transform="translate(105.65 295.00) scale(0.82 1)" font-size="8.7" text-anchor="middle" font-weight="bold" fill="#111" >35</text>
<line x1="117.00" y1="282.90" x2="117.00" y2="285.90" stroke="#111" stroke-width="1.2" />
<text transform="translate(117.00 295.00) scale(0.82 1)" font-size="8.7" text-anchor="middle" font-weight="bold" fill="#111" >40</text>
<line x1="128.35" y1="282.90" x2="128.35" y2="285.90" stroke="#111" stroke-width="1.2" />
<text transform="translate(128.35 295.00) scale(0.82 1)" font-size="8.7" text-anchor="middle" font-weight="bold" fill="#111" >45</text>
<line x1="139.70" y1="282.90" x2="139.70" y2="285.90" stroke="#111" stroke-width="1.2" />
<text transform="translate(139.70 295.00) scale(0.82 1)" font-size="8.7" text-anchor="middle" font-weight="bold" fill="#111" >50</text>
<line x1="151.05" y1="282.90" x2="151.05" y2="285.90" stroke="#111" stroke-width="1.2" />
<text transform="translate(151.05 295.00) scale(0.82 1)" font-size="8.7" text-anchor="middle" font-weight="bold" fill="#111" >55</text>
<line x1="162.40" y1="282.90" x2="162.40" y2="285.90" stroke="#111" stroke-width="1.2" />
<text transform="translate(162.40 295.00) scale(0.82 1)" font-size="8.7" text-anchor="middle" font-weight="bold" fill="#111" >60</text>
<line x1="173.75" y1="282.90" x2="173.75" y2="285.90" stroke="#111" stroke-width="1.2" />
<text transform="translate(173.75 295.00) scale(0.82 1)" font-size="8.7" text-anchor="middle" font-weight="bold" fill="#111" >65</text>
<text x="100.00" y="305.70" font-size="8.2" text-anchor="middle" font-weight="bold" fill="#111" >days</text>
<text x="0" y="0" font-size="8.4" font-weight="bold" text-anchor="middle" fill="#111" transform="translate(10.6,232.9) rotate(-90)">body weight (g)</text>
<text transform="translate(59.10 191.50) scale(0.88 1)" font-size="11.0" text-anchor="start" font-weight="normal" fill="#1a1a2a" stroke="#1a1a2a" stroke-width="0.45">c</text>
<line x1="53.60" y1="231.60" x2="53.60" y2="249.00" stroke="#b0b0b0" stroke-width="0.8" />
<line x1="52.00" y1="231.60" x2="55.20" y2="231.60" stroke="#b0b0b0" stroke-width="0.8" />
<line x1="52.00" y1="249.00" x2="55.20" y2="249.00" stroke="#b0b0b0" stroke-width="0.8" />
<line x1="64.80" y1="229.60" x2="64.80" y2="249.00" stroke="#b0b0b0" stroke-width="0.8" />
<line x1="63.20" y1="229.60" x2="66.40" y2="229.60" stroke="#b0b0b0" stroke-width="0.8" />
<line x1="63.20" y1="249.00" x2="66.40" y2="249.00" stroke="#b0b0b0" stroke-width="0.8" />
<line x1="69.50" y1="230.00" x2="69.50" y2="248.60" stroke="#b0b0b0" stroke-width="0.8" />
<line x1="67.90" y1="230.00" x2="71.10" y2="230.00" stroke="#b0b0b0" stroke-width="0.8" />
<line x1="67.90" y1="248.60" x2="71.10" y2="248.60" stroke="#b0b0b0" stroke-width="0.8" />
<line x1="76.30" y1="222.50" x2="76.30" y2="246.50" stroke="#b0b0b0" stroke-width="0.8" />
<line x1="74.70" y1="222.50" x2="77.90" y2="222.50" stroke="#b0b0b0" stroke-width="0.8" />
<line x1="74.70" y1="246.50" x2="77.90" y2="246.50" stroke="#b0b0b0" stroke-width="0.8" />
<line x1="80.70" y1="221.30" x2="80.70" y2="241.70" stroke="#b0b0b0" stroke-width="0.8" />
<line x1="79.10" y1="221.30" x2="82.30" y2="221.30" stroke="#b0b0b0" stroke-width="0.8" />
<line x1="79.10" y1="241.70" x2="82.30" y2="241.70" stroke="#b0b0b0" stroke-width="0.8" />
<line x1="84.90" y1="216.90" x2="84.90" y2="235.70" stroke="#b0b0b0" stroke-width="0.8" />
<line x1="83.30" y1="216.90" x2="86.50" y2="216.90" stroke="#b0b0b0" stroke-width="0.8" />
<line x1="83.30" y1="235.70" x2="86.50" y2="235.70" stroke="#b0b0b0" stroke-width="0.8" />
<line x1="92.00" y1="213.70" x2="92.00" y2="238.30" stroke="#b0b0b0" stroke-width="0.8" />
<line x1="90.40" y1="213.70" x2="93.60" y2="213.70" stroke="#b0b0b0" stroke-width="0.8" />
<line x1="90.40" y1="238.30" x2="93.60" y2="238.30" stroke="#b0b0b0" stroke-width="0.8" />
<line x1="101.00" y1="222.00" x2="101.00" y2="235.00" stroke="#b0b0b0" stroke-width="0.8" />
<line x1="99.40" y1="222.00" x2="102.60" y2="222.00" stroke="#b0b0b0" stroke-width="0.8" />
<line x1="99.40" y1="235.00" x2="102.60" y2="235.00" stroke="#b0b0b0" stroke-width="0.8" />
<line x1="107.10" y1="221.50" x2="107.10" y2="234.50" stroke="#b0b0b0" stroke-width="0.8" />
<line x1="105.50" y1="221.50" x2="108.70" y2="221.50" stroke="#b0b0b0" stroke-width="0.8" />
<line x1="105.50" y1="234.50" x2="108.70" y2="234.50" stroke="#b0b0b0" stroke-width="0.8" />
<line x1="44.40" y1="221.50" x2="44.40" y2="235.30" stroke="#555" stroke-width="0.8" />
<line x1="42.80" y1="221.50" x2="46.00" y2="221.50" stroke="#555" stroke-width="0.8" />
<line x1="42.80" y1="235.30" x2="46.00" y2="235.30" stroke="#555" stroke-width="0.8" />
<line x1="51.30" y1="215.30" x2="51.30" y2="229.00" stroke="#555" stroke-width="0.8" />
<line x1="49.70" y1="215.30" x2="52.90" y2="215.30" stroke="#555" stroke-width="0.8" />
<line x1="49.70" y1="229.00" x2="52.90" y2="229.00" stroke="#555" stroke-width="0.8" />
<line x1="57.70" y1="208.90" x2="57.70" y2="229.60" stroke="#555" stroke-width="0.8" />
<line x1="56.10" y1="208.90" x2="59.30" y2="208.90" stroke="#555" stroke-width="0.8" />
<line x1="56.10" y1="229.60" x2="59.30" y2="229.60" stroke="#555" stroke-width="0.8" />
<line x1="62.50" y1="209.40" x2="62.50" y2="222.20" stroke="#555" stroke-width="0.8" />
<line x1="60.90" y1="209.40" x2="64.10" y2="209.40" stroke="#555" stroke-width="0.8" />
<line x1="60.90" y1="222.20" x2="64.10" y2="222.20" stroke="#555" stroke-width="0.8" />
<line x1="69.60" y1="208.90" x2="69.60" y2="220.30" stroke="#555" stroke-width="0.8" />
<line x1="68.00" y1="208.90" x2="71.20" y2="208.90" stroke="#555" stroke-width="0.8" />
<line x1="68.00" y1="220.30" x2="71.20" y2="220.30" stroke="#555" stroke-width="0.8" />
<line x1="73.40" y1="208.90" x2="73.40" y2="215.50" stroke="#555" stroke-width="0.8" />
<line x1="71.80" y1="208.90" x2="75.00" y2="208.90" stroke="#555" stroke-width="0.8" />
<line x1="71.80" y1="215.50" x2="75.00" y2="215.50" stroke="#555" stroke-width="0.8" />
<line x1="78.30" y1="202.50" x2="78.30" y2="213.50" stroke="#555" stroke-width="0.8" />
<line x1="76.70" y1="202.50" x2="79.90" y2="202.50" stroke="#555" stroke-width="0.8" />
<line x1="76.70" y1="213.50" x2="79.90" y2="213.50" stroke="#555" stroke-width="0.8" />
<line x1="44.60" y1="232.40" x2="44.60" y2="265.30" stroke="#55b055" stroke-width="0.8" />
<line x1="43.00" y1="232.40" x2="46.20" y2="232.40" stroke="#55b055" stroke-width="0.8" />
<line x1="43.00" y1="265.30" x2="46.20" y2="265.30" stroke="#55b055" stroke-width="0.8" />
<line x1="51.10" y1="227.50" x2="51.10" y2="256.00" stroke="#55b055" stroke-width="0.8" />
<line x1="49.50" y1="227.50" x2="52.70" y2="227.50" stroke="#55b055" stroke-width="0.8" />
<line x1="49.50" y1="256.00" x2="52.70" y2="256.00" stroke="#55b055" stroke-width="0.8" />
<line x1="57.70" y1="225.00" x2="57.70" y2="248.30" stroke="#55b055" stroke-width="0.8" />
<line x1="56.10" y1="225.00" x2="59.30" y2="225.00" stroke="#55b055" stroke-width="0.8" />
<line x1="56.10" y1="248.30" x2="59.30" y2="248.30" stroke="#55b055" stroke-width="0.8" />
<line x1="62.20" y1="219.50" x2="62.20" y2="248.50" stroke="#55b055" stroke-width="0.8" />
<line x1="60.60" y1="219.50" x2="63.80" y2="219.50" stroke="#55b055" stroke-width="0.8" />
<line x1="60.60" y1="248.50" x2="63.80" y2="248.50" stroke="#55b055" stroke-width="0.8" />
<line x1="73.30" y1="220.50" x2="73.30" y2="251.20" stroke="#55b055" stroke-width="0.8" />
<line x1="71.70" y1="220.50" x2="74.90" y2="220.50" stroke="#55b055" stroke-width="0.8" />
<line x1="71.70" y1="251.20" x2="74.90" y2="251.20" stroke="#55b055" stroke-width="0.8" />
<line x1="78.20" y1="216.20" x2="78.20" y2="260.50" stroke="#55b055" stroke-width="0.8" />
<line x1="76.60" y1="216.20" x2="79.80" y2="216.20" stroke="#55b055" stroke-width="0.8" />
<line x1="76.60" y1="260.50" x2="79.80" y2="260.50" stroke="#55b055" stroke-width="0.8" />
<line x1="84.60" y1="216.80" x2="84.60" y2="250.20" stroke="#55b055" stroke-width="0.8" />
<line x1="83.00" y1="216.80" x2="86.20" y2="216.80" stroke="#55b055" stroke-width="0.8" />
<line x1="83.00" y1="250.20" x2="86.20" y2="250.20" stroke="#55b055" stroke-width="0.8" />
<line x1="89.50" y1="212.40" x2="89.50" y2="244.50" stroke="#55b055" stroke-width="0.8" />
<line x1="87.90" y1="212.40" x2="91.10" y2="212.40" stroke="#55b055" stroke-width="0.8" />
<line x1="87.90" y1="244.50" x2="91.10" y2="244.50" stroke="#55b055" stroke-width="0.8" />
<line x1="94.10" y1="209.00" x2="94.10" y2="244.00" stroke="#55b055" stroke-width="0.8" />
<line x1="92.50" y1="209.00" x2="95.70" y2="209.00" stroke="#55b055" stroke-width="0.8" />
<line x1="92.50" y1="244.00" x2="95.70" y2="244.00" stroke="#55b055" stroke-width="0.8" />
<line x1="44.60" y1="239.80" x2="44.60" y2="254.40" stroke="#6a6aff" stroke-width="0.8" />
<line x1="43.00" y1="239.80" x2="46.20" y2="239.80" stroke="#6a6aff" stroke-width="0.8" />
<line x1="43.00" y1="254.40" x2="46.20" y2="254.40" stroke="#6a6aff" stroke-width="0.8" />
<line x1="60.20" y1="242.50" x2="60.20" y2="256.80" stroke="#6a6aff" stroke-width="0.8" />
<line x1="58.60" y1="242.50" x2="61.80" y2="242.50" stroke="#6a6aff" stroke-width="0.8" />
<line x1="58.60" y1="256.80" x2="61.80" y2="256.80" stroke="#6a6aff" stroke-width="0.8" />
<line x1="64.90" y1="242.50" x2="64.90" y2="256.80" stroke="#6a6aff" stroke-width="0.8" />
<line x1="63.30" y1="242.50" x2="66.50" y2="242.50" stroke="#6a6aff" stroke-width="0.8" />
<line x1="63.30" y1="256.80" x2="66.50" y2="256.80" stroke="#6a6aff" stroke-width="0.8" />
<line x1="69.50" y1="242.50" x2="69.50" y2="256.80" stroke="#6a6aff" stroke-width="0.8" />
<line x1="67.90" y1="242.50" x2="71.10" y2="242.50" stroke="#6a6aff" stroke-width="0.8" />
<line x1="67.90" y1="256.80" x2="71.10" y2="256.80" stroke="#6a6aff" stroke-width="0.8" />
<line x1="85.40" y1="236.40" x2="85.40" y2="246.90" stroke="#6a6aff" stroke-width="0.8" />
<line x1="83.80" y1="236.40" x2="87.00" y2="236.40" stroke="#6a6aff" stroke-width="0.8" />
<line x1="83.80" y1="246.90" x2="87.00" y2="246.90" stroke="#6a6aff" stroke-width="0.8" />
<line x1="96.30" y1="238.00" x2="96.30" y2="248.50" stroke="#6a6aff" stroke-width="0.8" />
<line x1="94.70" y1="238.00" x2="97.90" y2="238.00" stroke="#6a6aff" stroke-width="0.8" />
<line x1="94.70" y1="248.50" x2="97.90" y2="248.50" stroke="#6a6aff" stroke-width="0.8" />
<line x1="112.20" y1="234.40" x2="112.20" y2="246.40" stroke="#6a6aff" stroke-width="0.8" />
<line x1="110.60" y1="234.40" x2="113.80" y2="234.40" stroke="#6a6aff" stroke-width="0.8" />
<line x1="110.60" y1="246.40" x2="113.80" y2="246.40" stroke="#6a6aff" stroke-width="0.8" />
<line x1="116.60" y1="232.40" x2="116.60" y2="240.00" stroke="#6a6aff" stroke-width="0.8" />
<line x1="115.00" y1="232.40" x2="118.20" y2="232.40" stroke="#6a6aff" stroke-width="0.8" />
<line x1="115.00" y1="240.00" x2="118.20" y2="240.00" stroke="#6a6aff" stroke-width="0.8" />
<line x1="128.30" y1="226.80" x2="128.30" y2="233.60" stroke="#6a6aff" stroke-width="0.8" />
<line x1="126.70" y1="226.80" x2="129.90" y2="226.80" stroke="#6a6aff" stroke-width="0.8" />
<line x1="126.70" y1="233.60" x2="129.90" y2="233.60" stroke="#6a6aff" stroke-width="0.8" />
<line x1="132.30" y1="229.60" x2="132.30" y2="235.70" stroke="#6a6aff" stroke-width="0.8" />
<line x1="130.70" y1="229.60" x2="133.90" y2="229.60" stroke="#6a6aff" stroke-width="0.8" />
<line x1="130.70" y1="235.70" x2="133.90" y2="235.70" stroke="#6a6aff" stroke-width="0.8" />
<line x1="139.50" y1="223.60" x2="139.50" y2="229.60" stroke="#6a6aff" stroke-width="0.8" />
<line x1="137.90" y1="223.60" x2="141.10" y2="223.60" stroke="#6a6aff" stroke-width="0.8" />
<line x1="137.90" y1="229.60" x2="141.10" y2="229.60" stroke="#6a6aff" stroke-width="0.8" />
<line x1="143.70" y1="220.40" x2="143.70" y2="227.30" stroke="#6a6aff" stroke-width="0.8" />
<line x1="142.10" y1="220.40" x2="145.30" y2="220.40" stroke="#6a6aff" stroke-width="0.8" />
<line x1="142.10" y1="227.30" x2="145.30" y2="227.30" stroke="#6a6aff" stroke-width="0.8" />
<line x1="148.20" y1="220.40" x2="148.20" y2="227.30" stroke="#6a6aff" stroke-width="0.8" />
<line x1="146.60" y1="220.40" x2="149.80" y2="220.40" stroke="#6a6aff" stroke-width="0.8" />
<line x1="146.60" y1="227.30" x2="149.80" y2="227.30" stroke="#6a6aff" stroke-width="0.8" />
<line x1="155.30" y1="207.60" x2="155.30" y2="225.50" stroke="#6a6aff" stroke-width="0.8" />
<line x1="153.70" y1="207.60" x2="156.90" y2="207.60" stroke="#6a6aff" stroke-width="0.8" />
<line x1="153.70" y1="225.50" x2="156.90" y2="225.50" stroke="#6a6aff" stroke-width="0.8" />
<line x1="48.80" y1="251.00" x2="48.80" y2="276.10" stroke="#ff5a5a" stroke-width="0.8" />
<line x1="47.20" y1="251.00" x2="50.40" y2="251.00" stroke="#ff5a5a" stroke-width="0.8" />
<line x1="47.20" y1="276.10" x2="50.40" y2="276.10" stroke="#ff5a5a" stroke-width="0.8" />
<line x1="53.70" y1="240.00" x2="53.70" y2="264.60" stroke="#ff5a5a" stroke-width="0.8" />
<line x1="52.10" y1="240.00" x2="55.30" y2="240.00" stroke="#ff5a5a" stroke-width="0.8" />
<line x1="52.10" y1="264.60" x2="55.30" y2="264.60" stroke="#ff5a5a" stroke-width="0.8" />
<line x1="60.20" y1="234.80" x2="60.20" y2="256.60" stroke="#ff5a5a" stroke-width="0.8" />
<line x1="58.60" y1="234.80" x2="61.80" y2="234.80" stroke="#ff5a5a" stroke-width="0.8" />
<line x1="58.60" y1="256.60" x2="61.80" y2="256.60" stroke="#ff5a5a" stroke-width="0.8" />
<line x1="64.90" y1="234.80" x2="64.90" y2="256.60" stroke="#ff5a5a" stroke-width="0.8" />
<line x1="63.30" y1="234.80" x2="66.50" y2="234.80" stroke="#ff5a5a" stroke-width="0.8" />
<line x1="63.30" y1="256.60" x2="66.50" y2="256.60" stroke="#ff5a5a" stroke-width="0.8" />
<line x1="69.30" y1="234.80" x2="69.30" y2="256.60" stroke="#ff5a5a" stroke-width="0.8" />
<line x1="67.70" y1="234.80" x2="70.90" y2="234.80" stroke="#ff5a5a" stroke-width="0.8" />
<line x1="67.70" y1="256.60" x2="70.90" y2="256.60" stroke="#ff5a5a" stroke-width="0.8" />
<line x1="75.50" y1="230.00" x2="75.50" y2="253.40" stroke="#ff5a5a" stroke-width="0.8" />
<line x1="73.90" y1="230.00" x2="77.10" y2="230.00" stroke="#ff5a5a" stroke-width="0.8" />
<line x1="73.90" y1="253.40" x2="77.10" y2="253.40" stroke="#ff5a5a" stroke-width="0.8" />
<line x1="80.50" y1="230.30" x2="80.50" y2="249.30" stroke="#ff5a5a" stroke-width="0.8" />
<line x1="78.90" y1="230.30" x2="82.10" y2="230.30" stroke="#ff5a5a" stroke-width="0.8" />
<line x1="78.90" y1="249.30" x2="82.10" y2="249.30" stroke="#ff5a5a" stroke-width="0.8" />
<line x1="91.50" y1="226.00" x2="91.50" y2="250.10" stroke="#ff5a5a" stroke-width="0.8" />
<line x1="89.90" y1="226.00" x2="93.10" y2="226.00" stroke="#ff5a5a" stroke-width="0.8" />
<line x1="89.90" y1="250.10" x2="93.10" y2="250.10" stroke="#ff5a5a" stroke-width="0.8" />
<line x1="96.70" y1="224.20" x2="96.70" y2="246.00" stroke="#ff5a5a" stroke-width="0.8" />
<line x1="95.10" y1="224.20" x2="98.30" y2="224.20" stroke="#ff5a5a" stroke-width="0.8" />
<line x1="95.10" y1="246.00" x2="98.30" y2="246.00" stroke="#ff5a5a" stroke-width="0.8" />
<line x1="100.60" y1="219.30" x2="100.60" y2="246.80" stroke="#ff5a5a" stroke-width="0.8" />
<line x1="99.00" y1="219.30" x2="102.20" y2="219.30" stroke="#ff5a5a" stroke-width="0.8" />
<line x1="99.00" y1="246.80" x2="102.20" y2="246.80" stroke="#ff5a5a" stroke-width="0.8" />
<line x1="107.70" y1="217.00" x2="107.70" y2="235.60" stroke="#ff5a5a" stroke-width="0.8" />
<line x1="106.10" y1="217.00" x2="109.30" y2="217.00" stroke="#ff5a5a" stroke-width="0.8" />
<line x1="106.10" y1="235.60" x2="109.30" y2="235.60" stroke="#ff5a5a" stroke-width="0.8" />
<line x1="112.50" y1="211.00" x2="112.50" y2="244.00" stroke="#ff5a5a" stroke-width="0.8" />
<line x1="110.90" y1="211.00" x2="114.10" y2="211.00" stroke="#ff5a5a" stroke-width="0.8" />
<line x1="110.90" y1="244.00" x2="114.10" y2="244.00" stroke="#ff5a5a" stroke-width="0.8" />
<line x1="116.50" y1="203.70" x2="116.50" y2="246.80" stroke="#ff5a5a" stroke-width="0.8" />
<line x1="114.90" y1="203.70" x2="118.10" y2="203.70" stroke="#ff5a5a" stroke-width="0.8" />
<line x1="114.90" y1="246.80" x2="118.10" y2="246.80" stroke="#ff5a5a" stroke-width="0.8" />
<line x1="123.50" y1="206.30" x2="123.50" y2="232.50" stroke="#ff5a5a" stroke-width="0.8" />
<line x1="121.90" y1="206.30" x2="125.10" y2="206.30" stroke="#ff5a5a" stroke-width="0.8" />
<line x1="121.90" y1="232.50" x2="125.10" y2="232.50" stroke="#ff5a5a" stroke-width="0.8" />
<polyline points="44.80,247.60 48.60,261.50 53.30,240.50 54.40,239.40 69.40,239.30 75.80,234.70 79.80,231.50 84.70,226.20 91.60,225.90 92.30,226.30 96.70,233.10 100.70,228.30 107.10,227.90 112.30,222.20" fill="none" stroke="#666" stroke-width="1.5" stroke-linejoin="round" />
<polyline points="44.40,228.30 51.30,221.90 57.70,219.50 62.50,215.80 69.70,214.60 73.30,212.60 78.20,207.80 85.00,204.10 89.50,197.50" fill="none" stroke="#111" stroke-width="1.7" stroke-linejoin="round" />
<polyline points="44.80,247.60 53.30,240.50 62.10,234.40 69.30,235.50 73.30,236.10 78.40,238.30 84.60,234.20 89.50,229.10 93.50,226.70 100.50,210.10 121.20,209.90 125.70,203.70 132.50,197.60" fill="none" stroke="#119911" stroke-width="2.0" stroke-linejoin="round" />
<polyline points="48.90,264.00 53.80,249.70 59.90,245.40 65.00,245.60 69.30,245.90 74.30,241.60 79.10,239.50 84.70,238.20 90.30,238.00 95.90,234.60 100.70,233.10 107.90,226.70 112.20,225.70 116.40,224.90 122.90,219.60 126.10,214.80 128.50,209.90" fill="none" stroke="#ff1a1a" stroke-width="2.0" stroke-linejoin="round" />
<polyline points="44.80,247.60 48.40,247.60 53.20,248.70 58.00,250.00 69.50,250.40 74.10,246.60 78.50,244.60 84.70,241.70 88.70,242.50 95.90,243.20 100.70,240.40 112.20,240.90 116.60,236.50 123.50,234.00 128.30,230.40 132.30,232.00 139.50,225.60 143.60,224.00 148.20,224.10 155.30,216.50" fill="none" stroke="#1f1fff" stroke-width="2.0" stroke-linejoin="round" />
<line x1="169.60" y1="190.70" x2="180.80" y2="190.70" stroke="#444" stroke-width="2.0" />
<text transform="translate(186.3 193.10) scale(0.905 1)" font-size="9" fill="#222" stroke="#222" stroke-width="0.15">SHAM</text>
<line x1="169.60" y1="202.30" x2="180.80" y2="202.30" stroke="#119911" stroke-width="2.0" />
<text transform="translate(186.3 204.80) scale(0.905 1)" font-size="9" fill="#222" stroke="#222" stroke-width="0.15">PD1</text>
<line x1="169.60" y1="214.00" x2="180.80" y2="214.00" stroke="#ff1a1a" stroke-width="2.0" />
<text transform="translate(186.3 216.60) scale(0.905 1)" font-size="9" fill="#222" stroke="#222" stroke-width="0.15"><tspan>h8C3-</tspan><tspan font-size="6.6" dy="-4.4">213</tspan><tspan dy="4.4">Bi-PD1</tspan></text>
<line x1="169.60" y1="226.20" x2="180.80" y2="226.20" stroke="#1f1fff" stroke-width="2.0" />
<text transform="translate(186.3 228.90) scale(0.905 1)" font-size="9" fill="#222" stroke="#222" stroke-width="0.15"><tspan>h8C3-</tspan><tspan font-size="6.6" dy="-4.4">213</tspan><tspan dy="4.4">Bi-PD1-h8C3-</tspan><tspan font-size="6.6" dy="-4.4">213</tspan><tspan dy="4.4">Bi</tspan></text>
<line x1="169.60" y1="237.90" x2="180.80" y2="237.90" stroke="#555" stroke-width="2.0" />
<text transform="translate(186.3 240.40) scale(0.905 1)" font-size="9" fill="#222" stroke="#222" stroke-width="0.15">h8C3 cold</text>
</svg>
</body></html>
